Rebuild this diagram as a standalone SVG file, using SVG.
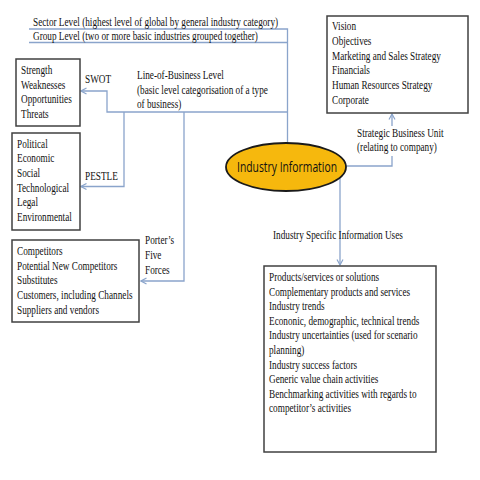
<svg xmlns="http://www.w3.org/2000/svg" width="480" height="480" viewBox="0 0 480 480">
<style>
.t{font-family:"Liberation Serif","Times New Roman",serif;font-size:13px;fill:#111}
.box{fill:#fff;stroke:#404040;stroke-width:1.5}
.c{fill:none;stroke:#8aa4cb;stroke-width:1.3}
</style>
<defs>
<marker id="a" viewBox="0 0 8 8" refX="7" refY="4" markerWidth="8" markerHeight="8" orient="auto" markerUnits="userSpaceOnUse">
<polyline points="1.5,1 7,4 1.5,7" fill="none" stroke="#8aa4cb" stroke-width="1.2"/>
</marker>
</defs>
<rect width="480" height="480" fill="#fff"/>
<g id="connectors">
<polyline class="c" points="29,29 287.5,29 287.5,144"/>
<polyline class="c" points="29,42.5 287.5,42.5"/>
<polyline class="c" points="287.5,112 107,112 107,91 81,91" marker-end="url(#a)"/>
<polyline class="c" points="124,112 124,186.5 81,186.5" marker-end="url(#a)"/>
<polyline class="c" points="184,112 184,281 141,281" marker-end="url(#a)"/>
<polyline class="c" points="340,166 392,166 392,114" marker-end="url(#a)"/>
<polyline class="c" points="340,178 340,265" marker-end="url(#a)"/>
</g>
<g id="labels">
<text class="t" transform="translate(33,26) scale(0.71,1)">Sector Level (highest level of global by general industry category)</text>
<text class="t" transform="translate(33,40) scale(0.71,1)">Group Level (two or more basic industries grouped together)</text>
<text class="t" transform="translate(85,83) scale(0.71,1)">SWOT</text>
<text class="t" transform="translate(137,79) scale(0.71,1)"><tspan x="0" y="0">Line-of-Business Level</tspan><tspan x="0" y="14.7">(basic level categorisation of a type</tspan><tspan x="0" y="29.4">of business)</tspan></text>
<text class="t" transform="translate(85,180) scale(0.71,1)">PESTLE</text>
<text class="t" transform="translate(145,244) scale(0.71,1)"><tspan x="0" y="0">Porter’s</tspan><tspan x="0" y="14.8">Five</tspan><tspan x="0" y="29.6">Forces</tspan></text>
<rect x="355" y="126" width="91" height="30" fill="#fff"/>
<text class="t" transform="translate(357,137) scale(0.71,1)"><tspan x="0" y="0">Strategic Business Unit</tspan><tspan x="0" y="14">(relating to company)</tspan></text>
<text class="t" transform="translate(273,238.5) scale(0.71,1)">Industry Specific Information Uses</text>
</g>
<g id="swot">
<rect class="box" x="16" y="59" width="64" height="67"/>
<text class="t" transform="translate(21,74) scale(0.71,1)"><tspan x="0" y="0">Strength</tspan><tspan x="0" y="14.7">Weaknesses</tspan><tspan x="0" y="29.4">Opportunities</tspan><tspan x="0" y="44.1">Threats</tspan></text>
</g>
<g id="pestle">
<rect class="box" x="12" y="133" width="68" height="97"/>
<text class="t" transform="translate(17,147.5) scale(0.71,1)"><tspan x="0" y="0">Political</tspan><tspan x="0" y="14.7">Economic</tspan><tspan x="0" y="29.4">Social</tspan><tspan x="0" y="44.1">Technological</tspan><tspan x="0" y="58.8">Legal</tspan><tspan x="0" y="73.5">Environmental</tspan></text>
</g>
<g id="porter">
<rect class="box" x="12" y="240" width="127" height="82"/>
<text class="t" transform="translate(17,255) scale(0.71,1)"><tspan x="0" y="0">Competitors</tspan><tspan x="0" y="14.7">Potential New Competitors</tspan><tspan x="0" y="29.4">Substitutes</tspan><tspan x="0" y="44.1">Customers, including Channels</tspan><tspan x="0" y="58.8">Suppliers and vendors</tspan></text>
</g>
<g id="sbu">
<rect class="box" x="327" y="16" width="141" height="97"/>
<text class="t" transform="translate(332,30) scale(0.71,1)"><tspan x="0" y="0">Vision</tspan><tspan x="0" y="14.8">Objectives</tspan><tspan x="0" y="29.6">Marketing and Sales Strategy</tspan><tspan x="0" y="44.4">Financials</tspan><tspan x="0" y="59.2">Human Resources Strategy</tspan><tspan x="0" y="74">Corporate</tspan></text>
</g>
<g id="industry">
<ellipse cx="286" cy="167" rx="60" ry="24" fill="#f6b80d" stroke="#1a1a1a" stroke-width="1.8"/>
<text x="287" y="172" text-anchor="middle" font-family="'Open Sans','Liberation Sans',sans-serif" font-size="14" fill="#111" textLength="100" lengthAdjust="spacingAndGlyphs">Industry Information</text>
</g>
<g id="uses">
<rect class="box" x="264" y="266" width="172" height="186"/>
<text class="t" transform="translate(269,281) scale(0.71,1)"><tspan x="0" y="0">Products/services or solutions</tspan><tspan x="0" y="14.6">Complementary products and services</tspan><tspan x="0" y="29.2">Industry trends</tspan><tspan x="0" y="43.8">Econonic, demographic, technical trends</tspan><tspan x="0" y="58.4">Industry uncertainties (used for scenario</tspan><tspan x="0" y="73">planning)</tspan><tspan x="0" y="87.6">Industry success factors</tspan><tspan x="0" y="102.2">Generic value chain activities</tspan><tspan x="0" y="116.8">Benchmarking activities with regards to</tspan><tspan x="0" y="131.4">competitor’s activities</tspan></text>
</g>
</svg>
